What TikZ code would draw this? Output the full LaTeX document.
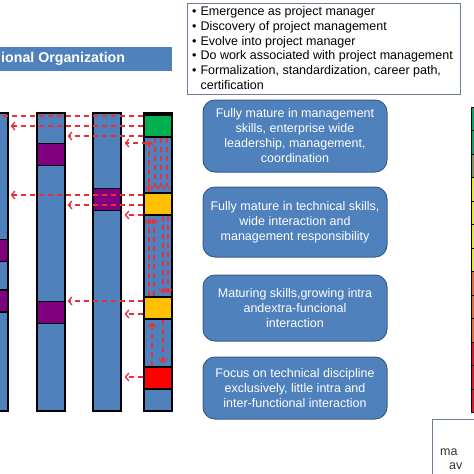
\documentclass[tikz,border=0pt]{standalone}
\usepackage{fontspec}
\setmainfont{Liberation Sans}
\usepackage{xcolor}
\definecolor{colblue}{RGB}{79,129,189}
\definecolor{boxedge}{RGB}{56,93,138}
\definecolor{plum}{RGB}{128,0,128}
\definecolor{mgreen}{RGB}{0,176,80}
\definecolor{amber}{RGB}{255,192,0}
\definecolor{dashred}{RGB}{232,48,56}
\definecolor{listedge}{RGB}{110,125,150}
\definecolor{bgreen}{RGB}{24,160,100}
\definecolor{bolive}{RGB}{128,150,90}
\definecolor{byellow}{RGB}{228,228,60}
\definecolor{borange}{RGB}{214,116,48}
\definecolor{bred}{RGB}{210,30,40}
\usepackage{tikz}
\usetikzlibrary{positioning}
\usetikzlibrary{arrows.meta}

\begin{document}
\begin{tikzpicture}[x=1pt,y=-1pt,
  every node/.style={font=\fontsize{12.5}{15}\selectfont, inner sep=0pt},
  col/.style={draw=black, line width=1.2pt, fill=colblue, minimum width=28pt, minimum height=298pt},
  band/.style={draw=black, line width=1.2pt, minimum width=28pt, minimum height=22pt},
  stage/.style={draw=boxedge, line width=1pt, fill=colblue, rounded corners=12pt, text=white, align=center, minimum width=184pt},
  link/.style={dashred, line width=1.3pt, dash pattern=on 5pt off 4pt, -{Straight Barb[length=3.5pt,width=8pt]}},
  wiggle/.style={dashred, line width=1pt}]
\useasboundingbox (0,0) rectangle (474,474);

% header
\node[fill=colblue, minimum width=172pt, minimum height=24pt, anchor=west] (bar) at (0,59) {};
\node[anchor=west, text=white, font=\bfseries\fontsize{14.2}{16}\selectfont] (bartext) at (1,59) {ional Organization};
\node[draw=listedge, line width=1pt, minimum width=273pt, minimum height=91pt, anchor=north west] (roles) at (187,3) {};
\node[anchor=north west, align=left, font=\fontsize{12.5}{14.7}\selectfont] (rolelist) at (192,6.5)
  {\textbullet\hspace{4pt}Emergence as project manager\\
   \textbullet\hspace{4pt}Discovery of project management\\
   \textbullet\hspace{4pt}Evolve into project manager\\
   \textbullet\hspace{4pt}Do work associated with project management\\
   \textbullet\hspace{4pt}Formalization, standardization, career path,\\
   \phantom{\textbullet}\hspace{4pt}certification};

% columns
\node[col] (c1) at (-6,262) {};
\node[col] (c2) at (51,262) {};
\node[col] (c3) at (107,262) {};
\node[col] (c4) at (158,262) {};
\node[band, fill=plum] (p11) at (-6,250.5) {};
\node[band, fill=plum] (p12) at (-6,301) {};
\node[band, fill=plum] (p21) at (51,154.5) {};
\node[band, fill=plum] (p22) at (51,312.5) {};
\node[band, fill=plum] (p31) at (107,199.5) {};
\node[band, fill=mgreen] (g) at (158,126) {};
\node[band, fill=amber] (y1) at (158,204) {};
\node[band, fill=amber] (y2) at (158,308) {};
\node[band, fill=red] (r) at (158,378) {};

% links to the other columns
\draw[dashred, line width=1.3pt, dash pattern=on 5pt off 4pt] (c4.west |- 0,116) -- (c1.west |- 0,116);
\draw[link] (c4.west |- 0,126) -- ([xshift=2pt]c1.east |- 0,126);
\draw[link] (c4.west |- 0,136) -- ([xshift=2pt]c2.east |- 0,136);
\draw[link] ([xshift=4pt]c4.west |- 0,143) -- ([xshift=3pt]c3.east |- 0,143);
\draw[link] (c4.west |- 0,195) -- ([xshift=2pt]c1.east |- 0,195);
\draw[link] (c4.west |- 0,205) -- ([xshift=2pt]c2.east |- 0,205);
\draw[link] (c4.west |- 0,215) -- ([xshift=3pt]c3.east |- 0,215);
\draw[link] (c4.west |- 0,301) -- ([xshift=2pt]c2.east |- 0,301);
\draw[link] (c4.west |- 0,314) -- ([xshift=3pt]c3.east |- 0,314);
\draw[link] (c4.west |- 0,377) -- ([xshift=3pt]c3.east |- 0,377);

% links inside the last column
\draw[link] (y1.north -| 149,0) -- ([yshift=-3pt]g.south -| 149,0);
\foreach \x in {155,161,167}
  \draw[dashred, line width=1.3pt, dash pattern=on 5pt off 4pt] (g.south -| \x,0) -- ([yshift=6pt]y1.north -| \x,0);
\draw[wiggle] (146,189) -- (149,184) -- (152,189) -- (155,184) -- (158,189) -- (161,184) -- (164,189) -- (167,184) -- (170,189);
\draw[link] (y2.north -| 149,0) -- ([yshift=-3pt]y1.south -| 149,0);
\draw[link] (y2.north -| 154,0) -- ([yshift=-3pt]y1.south -| 154,0);
\draw[link] (y1.south -| 163,0) -- ([yshift=3pt]y2.north -| 163,0);
\draw[link] (y1.south -| 168,0) -- ([yshift=3pt]y2.north -| 168,0);
\draw[link] (r.north -| 152,0) -- ([yshift=-3pt]y2.south -| 152,0);
\draw[link] (y2.south -| 163,0) -- ([yshift=3pt]r.north -| 163,0);

% stages
\node[stage, minimum height=72pt] (s1) at (295,136) {Fully mature in management\\ skills, enterprise wide\\ leadership, management,\\ coordination};
\node[stage, minimum height=70pt] (s2) at (295,222) {Fully mature in technical skills,\\ wide interaction and\\ management responsibility};
\node[stage, minimum height=66pt] (s3) at (295,308) {Maturing skills,growing intra\\ andextra-funcional\\ interaction};
\node[stage, minimum height=62pt] (s4) at (295,388) {Focus on technical discipline\\ exclusively, little intra and\\ inter-functional interaction};

% scale bar
\foreach \c [count=\i from 0] in {bgreen,bgreen,bolive,byellow,byellow,byellow,byellow,borange,borange,borange,bred,bred,bred}
  \draw[fill=\c, line width=1pt] (471,{107+23.5*\i}) rectangle (486,{130.5+23.5*\i});
\node[draw=listedge, line width=1pt, minimum width=60pt, minimum height=70pt, anchor=north west] (legend) at (432,419) {};
\node[anchor=base west, text=black!80] (ma) at (440,455) {ma};
\node[anchor=base west, text=black!80] (av) at (449,469) {av};
\end{tikzpicture}
\end{document}
